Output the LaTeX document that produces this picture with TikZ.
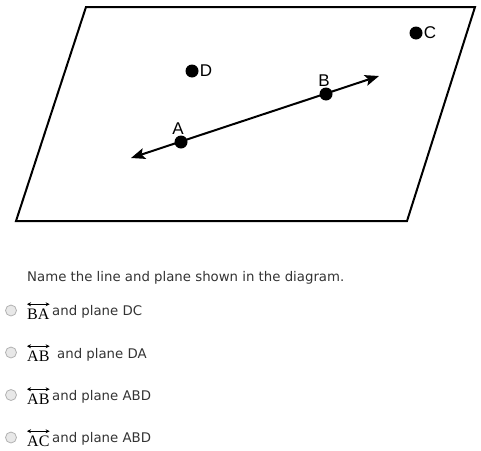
\documentclass[tikz,border=0pt]{standalone}
\usepackage{fontspec}
\setmainfont{DejaVu Sans}
\newfontfamily\lblfont{Liberation Sans}
\newfontfamily\serfont{Liberation Serif}
\usetikzlibrary{arrows.meta}
\definecolor{qtext}{HTML}{333333}
\tikzset{pt/.style={circle, fill=black, inner sep=0pt, minimum size=13pt},
ptlabel/.style={font=\lblfont\fontsize{17}{18}\selectfont, inner sep=1pt},
radio/.style={circle, draw=gray!60, fill=gray!18, inner sep=0pt, minimum size=11pt, line width=0.8pt},
ovletters/.style={font=\serfont\fontsize{16}{17}\selectfont, inner sep=0pt, anchor=base west},
opttext/.style={font=\fontsize{13.3}{15}\selectfont, text=qtext, inner sep=0pt, anchor=base west},
ovarrow/.style={{Stealth[length=4pt,width=4pt]}-{Stealth[length=4pt,width=4pt]}, line width=0.8pt}}

\begin{document}
\begin{tikzpicture}[x=1pt, y=-1pt]
\useasboundingbox (0,0) rectangle (481,450);
%plane
\draw[line width=2pt, line join=miter] (86,7) -- (475,7) -- (407,221) -- (16,221) -- cycle;
%points
\node[pt] (C) at (416,33) {};
\node[ptlabel, anchor=west] at (C.east) {C};
\node[pt] (D) at (192,71) {};
\node[ptlabel, anchor=west] at (D.east) {D};
\node[pt] (B) at (326,94) {};
\node[ptlabel, anchor=south] at ([xshift=-2pt]B.north) {B};
\node[pt] (A) at (181,142) {};
\node[ptlabel, anchor=south] at ([xshift=-3pt]A.north) {A};
\coordinate (Lend) at (131,158);
\coordinate (Rend) at (379,76);
\draw[line width=2pt, {Stealth[length=14pt,width=11pt,inset=3pt]}-{Stealth[length=14pt,width=11pt,inset=3pt]}] (Lend) -- (Rend);
%question
\node[opttext] (q) at (27,281) {Name the line and plane shown in the diagram.};
%option 1
\node[radio] (r1) at (11,310.5) {};
\node[ovletters] (l1) at (27,319) {BA};
\draw[ovarrow] ([yshift=4pt]l1.north west) -- ([yshift=4pt]l1.north east);
\node[opttext] (t1) at (52,315) {and plane DC};
%option 2
\node[radio] (r2) at (11,352.5) {};
\node[ovletters] (l2) at (27,361) {AB};
\draw[ovarrow] ([yshift=4pt]l2.north west) -- ([yshift=4pt]l2.north east);
\node[opttext] (t2) at (57,358) {and plane DA};
%option 3
\node[radio] (r3) at (11,395) {};
\node[ovletters] (l3) at (27,404) {AB};
\draw[ovarrow] ([yshift=4pt]l3.north west) -- ([yshift=4pt]l3.north east);
\node[opttext] (t3) at (52,400) {and plane ABD};
%option 4
\node[radio] (r4) at (11,437.5) {};
\node[ovletters] (l4) at (27,446) {AC};
\draw[ovarrow] ([yshift=4pt]l4.north west) -- ([yshift=4pt]l4.north east);
\node[opttext] (t4) at (52,442) {and plane ABD};
\end{tikzpicture}
\end{document}
